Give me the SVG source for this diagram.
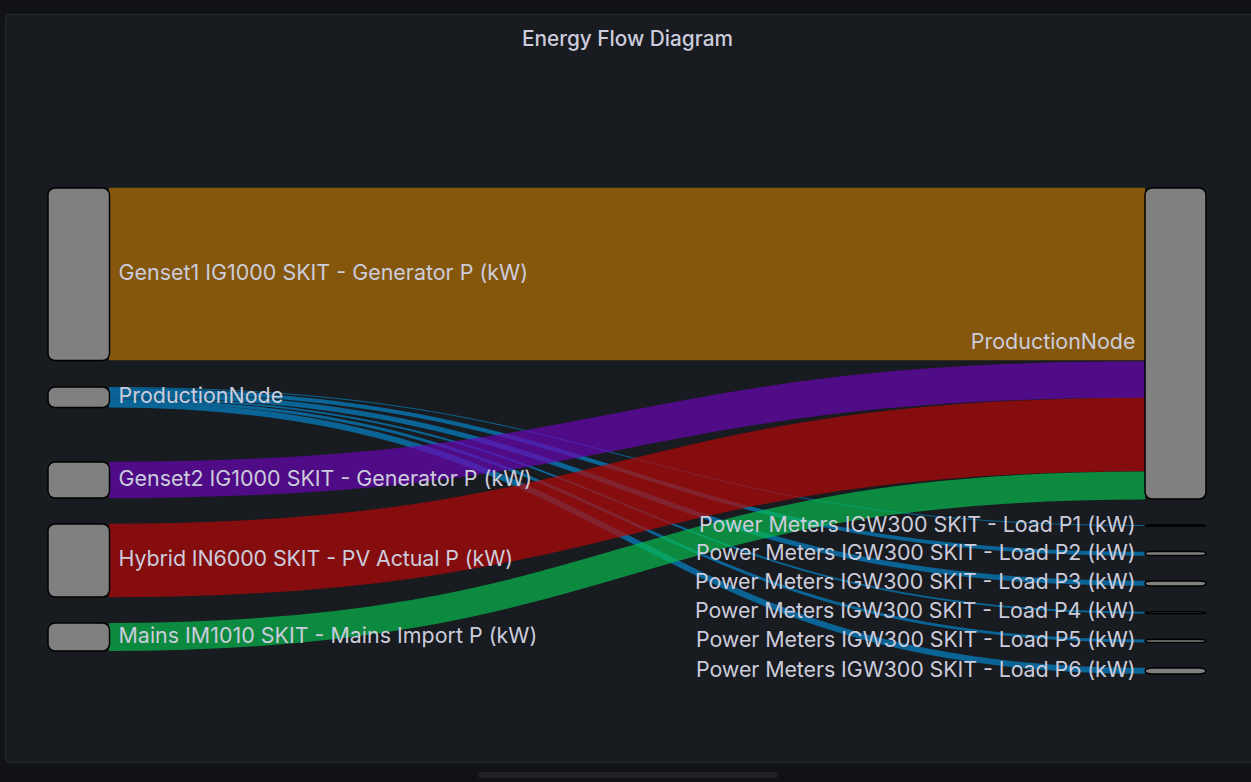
<svg xmlns="http://www.w3.org/2000/svg" width="1251" height="782" viewBox="0 0 1251 782">
<style>
text{font-family:Inter,"Noto Sans","Liberation Sans",sans-serif;font-size:21.45px;fill:#ccccdc}
.end{text-anchor:end}
.node{fill:#808080;stroke:#000;stroke-width:1.5}
.link{fill:none}
.c{opacity:.7}
.b{stroke:#0a6495}
</style>
<rect width="1251" height="782" fill="#111217"/>
<rect x="5.5" y="14.5" width="1260" height="748" rx="3" fill="#181b1f" stroke="#25282d"/>
<rect x="478" y="772" width="300" height="6" rx="3" fill="#202226"/>
<text x="627.5" y="46" text-anchor="middle" style="font-weight:500;font-size:20.8px">Energy Flow Diagram</text>
<g id="connectors">
<path class="link b" stroke-width="1" d="M109,387.500C627,387.500 627,525.500 1145,525.500"/>
<path class="link b" stroke-width="4" d="M109,390C627,390 627,553.700 1145,553.700"/>
<path class="link b" stroke-width="5" d="M109,394.500C627,394.500 627,583.300 1145,583.300"/>
<path class="link b" stroke-width="2" d="M109,398C627,398 627,612.700 1145,612.700"/>
<path class="link b" stroke-width="3" d="M109,400.500C627,400.500 627,641 1145,641"/>
<path class="link b" stroke-width="6" d="M109,404.500C627,404.500 627,670.800 1145,670.800"/>
<path class="link c" stroke="#b47104" stroke-width="172.500" d="M109,274C627,274 627,274 1145,274"/>
<path class="link c" stroke="#6805b4" stroke-width="36.500" d="M109,480C627,480 627,379.500 1145,379.500"/>
<path class="link c" stroke="#b50705" stroke-width="73.500" d="M109,560.500C627,560.500 627,434.500 1145,434.500"/>
<path class="link c" stroke="#07b94e" stroke-width="28" d="M109,637C627,637 627,485.500 1145,485.500"/>
</g>
<g id="n-genset1"><rect class="node" x="48" y="188" width="61.500" height="172.500" rx="7"/><text x="118.500" y="280" textLength="409.500">Genset1 IG1000 SKIT - Generator P (kW)</text></g>
<g id="n-prod-left"><rect class="node" x="48" y="387" width="61.500" height="20.500" rx="7"/><text x="118.500" y="403">ProductionNode</text></g>
<g id="n-genset2"><rect class="node" x="48" y="462" width="61.500" height="36" rx="7"/><text x="118.500" y="486">Genset2 IG1000 SKIT - Generator P (kW)</text></g>
<g id="n-hybrid"><rect class="node" x="48" y="524" width="61.500" height="73" rx="7"/><text x="118.500" y="566" textLength="394.500">Hybrid IN6000 SKIT - PV Actual P (kW)</text></g>
<g id="n-mains"><rect class="node" x="48" y="623" width="61.500" height="28" rx="7"/><text x="118.500" y="643">Mains IM1010 SKIT - Mains Import P (kW)</text></g>
<g id="n-prod-right"><rect class="node" x="1145" y="188" width="61" height="311" rx="7"/><text class="end" x="1135.500" y="349">ProductionNode</text></g>
<g id="n-p1"><rect class="node" x="1145" y="525" width="61" height="1" rx="7"/><text class="end" x="1135.500" y="531.500" textLength="436.500">Power Meters IGW300 SKIT - Load P1 (kW)</text></g>
<g id="n-p2"><rect class="node" x="1145" y="551.500" width="61" height="4" rx="7"/><text class="end" x="1135.500" y="560" textLength="439.500">Power Meters IGW300 SKIT - Load P2 (kW)</text></g>
<g id="n-p3"><rect class="node" x="1145" y="581" width="61" height="5" rx="7"/><text class="end" x="1135.500" y="589" textLength="440.500">Power Meters IGW300 SKIT - Load P3 (kW)</text></g>
<g id="n-p4"><rect class="node" x="1145" y="611.800" width="61" height="1.800" rx="7"/><text class="end" x="1135.500" y="618" textLength="440.500">Power Meters IGW300 SKIT - Load P4 (kW)</text></g>
<g id="n-p5"><rect class="node" x="1145" y="639.500" width="61" height="3" rx="7"/><text class="end" x="1135.500" y="647" textLength="439.500">Power Meters IGW300 SKIT - Load P5 (kW)</text></g>
<g id="n-p6"><rect class="node" x="1145" y="668" width="61" height="6" rx="7"/><text class="end" x="1135.500" y="677" textLength="439.500">Power Meters IGW300 SKIT - Load P6 (kW)</text></g>
</svg>
